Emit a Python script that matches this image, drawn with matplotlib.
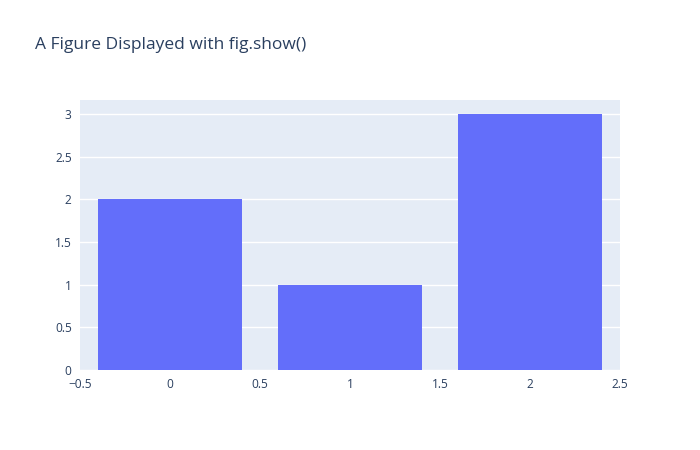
import matplotlib.pyplot as plt

x_vals = [0, 1, 2]
y_vals = [2, 1, 3]
title = "A Figure Displayed with fig.show()"

plt.rcParams['font.family'] = ['Open Sans', 'DejaVu Sans']
text_color = "#2a3f5f"

fig = plt.figure(figsize=(7, 4.5), dpi=100)
ax = fig.add_axes([80 / 700, 80 / 450, 540 / 700, 270 / 450])
ax.set_facecolor("#E5ECF6")
ax.bar(x_vals, y_vals, width=0.8, color="#636efa", zorder=2)

ax.set_xlim(-0.5, 2.5)
ax.set_ylim(0, 3.164)
ax.set_xticks([-0.5, 0, 0.5, 1, 1.5, 2, 2.5])
ax.set_xticklabels(["\u22120.5", "0", "0.5", "1", "1.5", "2", "2.5"])
ax.set_yticks([0, 0.5, 1, 1.5, 2, 2.5, 3])
ax.set_yticklabels(["0", "0.5", "1", "1.5", "2", "2.5", "3"])
ax.grid(axis="y", color="white", linewidth=1, zorder=1)
ax.tick_params(length=0, labelsize=8.6, colors=text_color, pad=6)
for s in ax.spines.values():
    s.set_visible(False)

fig.text(35 / 700, 1 - 45 / 450, title, fontsize=12.5, color=text_color, va="center")

fig.savefig("out.png", dpi=100)
